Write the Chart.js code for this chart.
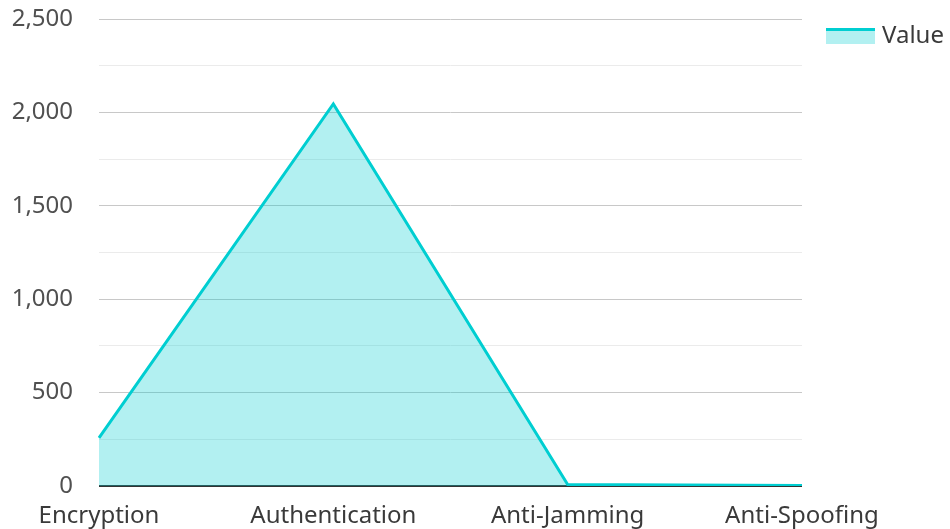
<!DOCTYPE html>
<html>
<head>
<meta charset="utf-8">
<script src="https://cdn.jsdelivr.net/npm/chart.js@4/dist/chart.umd.min.js"></script>
<style>
  html, body { margin: 0; padding: 0; background: #fff; }
  #wrap { width: 950px; height: 529px; position: relative; }
</style>
</head>
<body>
<div id="wrap"><canvas id="c"></canvas></div>
<script>
// Security feature counts
const categories = ['Encryption', 'Authentication', 'Anti-Jamming', 'Anti-Spoofing'];
const values = [258, 2045, 8, 3];
const seriesName = 'Value';
const yMax = 2500;
const yStep = 250;

const lineColor = 'rgb(0,206,209)';
const fillColor = 'rgba(0,206,209,0.3)';
const textColor = '#3a3a3a';
const yTickColor = '#505050';

Chart.defaults.font.family = '"Noto Sans", "Open Sans", sans-serif';
Chart.defaults.font.size = 24;
Chart.defaults.color = textColor;

// Legend column: fixed width beside the plot, items nudged inward
const LEGEND_WIDTH = 148;
const LEGEND_SHIFT_X = 16;
const LEGEND_SHIFT_Y = -3;
const SWATCH_W = 49;
const SWATCH_H = 16;

const legendPlace = {
  id: 'legendPlace',
  afterInit(chart) {
    const lg = chart.legend;
    if (!lg) return;
    const fit = lg.fit;
    lg.fit = function () {
      fit.call(this);
      this.width = LEGEND_WIDTH;
    };
  },
  afterLayout(chart) {
    const lg = chart.legend;
    if (!lg) return;
    lg.left += LEGEND_SHIFT_X;
    lg.right += LEGEND_SHIFT_X;
    lg.top += LEGEND_SHIFT_Y;
    lg.bottom += LEGEND_SHIFT_Y;
  },
  // swatch: translucent box with a solid top edge
  afterDraw(chart) {
    const lg = chart.legend;
    if (!lg || !lg.legendHitBoxes) return;
    const ctx = chart.ctx;
    lg.legendHitBoxes.forEach((hb, i) => {
      const ds = chart.data.datasets[i];
      const y = hb.top + (hb.height - SWATCH_H) / 2;
      ctx.save();
      ctx.fillStyle = ds.backgroundColor;
      ctx.fillRect(hb.left, y, SWATCH_W, SWATCH_H);
      ctx.fillStyle = ds.borderColor;
      ctx.fillRect(hb.left, y, SWATCH_W, 3);
      ctx.restore();
    });
  }
};

new Chart(document.getElementById('c'), {
  type: 'line',
  data: {
    labels: categories,
    datasets: [{
      label: seriesName,
      data: values,
      borderColor: lineColor,
      backgroundColor: fillColor,
      borderWidth: 3,
      fill: 'origin',
      pointRadius: 0,
      tension: 0
    }]
  },
  options: {
    responsive: true,
    maintainAspectRatio: false,
    animation: false,
    layout: { padding: { top: 19, left: 11, right: 0, bottom: 0 } },
    plugins: {
      tooltip: { enabled: false },
      legend: {
        position: 'right',
        align: 'start',
        labels: {
          boxWidth: 44,
          boxHeight: SWATCH_H,
          padding: 8,
          color: textColor,
          font: { size: 24 },
          generateLabels: (chart) => chart.data.datasets.map((ds, i) => ({
            text: ds.label,
            fillStyle: 'rgba(0,0,0,0)',
            strokeStyle: 'rgba(0,0,0,0)',
            lineWidth: 0,
            fontColor: textColor,
            hidden: !chart.isDatasetVisible(i),
            datasetIndex: i
          }))
        }
      }
    },
    scales: {
      x: {
        offset: false,
        grid: { display: false, drawTicks: false },
        border: { display: false },
        ticks: { padding: 16, maxRotation: 0, autoSkip: false, color: textColor },
        afterFit: (s) => { s.height = 43; }
      },
      y: {
        min: 0,
        max: yMax,
        border: { display: false },
        ticks: {
          stepSize: yStep,
          padding: 26,
          color: yTickColor,
          callback: (v) => (v % 500 === 0 ? v.toLocaleString('en-US') : '')
        },
        afterFit: (s) => { s.width = 88; s.paddingTop = 0; s.paddingBottom = 0; },
        grid: {
          drawTicks: false,
          color: (ctx) => {
            const v = ctx.tick ? ctx.tick.value : null;
            if (v === 0) return '#333';
            return v % 500 === 0 ? '#c8c8c8' : '#ebebeb';
          },
          lineWidth: (ctx) => (ctx.tick && ctx.tick.value === 0 ? 2 : 1)
        }
      }
    }
  },
  plugins: [legendPlace]
});
</script>
</body>
</html>
